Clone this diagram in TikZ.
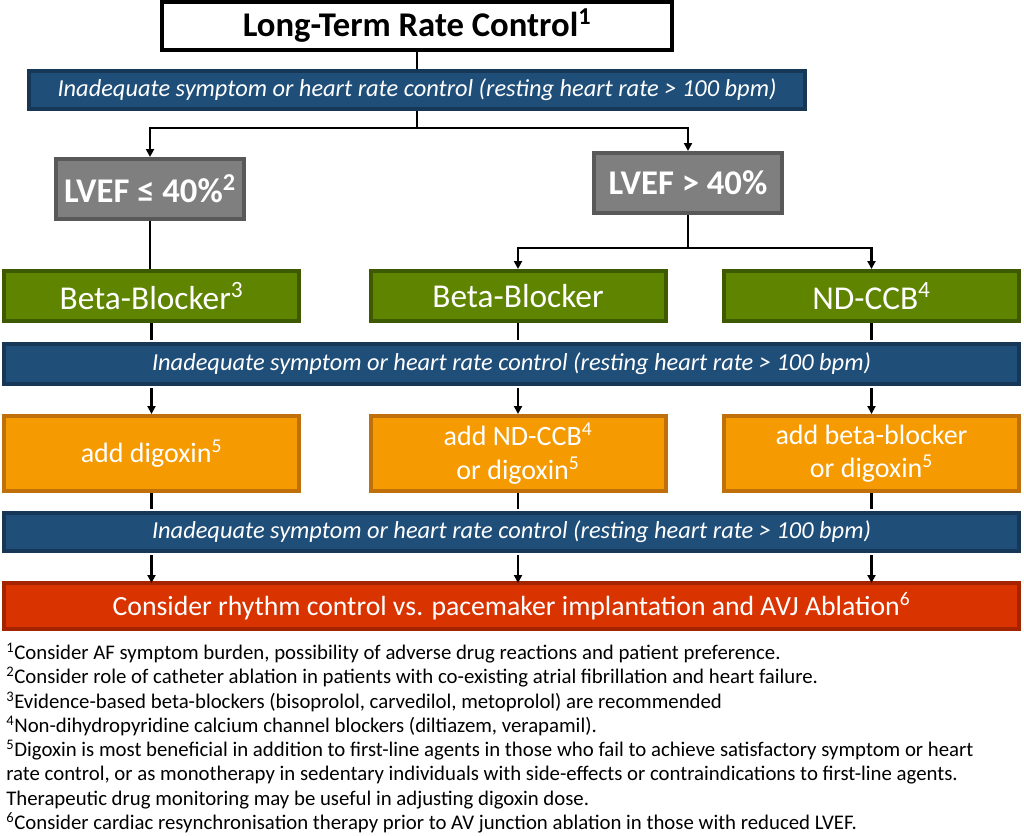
\documentclass[tikz,border=0pt]{standalone}
\usepackage{fontspec}
\setmainfont{Carlito}
\usetikzlibrary{arrows.meta}
\definecolor{bbar}{HTML}{1F4E79}
\definecolor{grf}{HTML}{7F7F7F}\definecolor{grd}{HTML}{595959}
\definecolor{gnf}{HTML}{5E8400}\definecolor{gnd}{HTML}{3D5A00}
\definecolor{orf}{HTML}{F59A00}\definecolor{ord}{HTML}{C0700A}
\definecolor{rdf}{HTML}{D93300}\definecolor{rdd}{HTML}{A52400}
\begin{document}
\begin{tikzpicture}[x=0.75pt,y=-0.75pt,
 box/.style={draw,line width=3pt,inner sep=0pt,align=center,text=white},
 bar/.style={box,fill=bbar,draw=bbar!70!black,font=\itshape\fontsize{18.3}{22}\selectfont},
 grey/.style={box,fill=grf,draw=grd,font=\bfseries\fontsize{26}{30}\selectfont},
 green/.style={box,fill=gnf,draw=gnd,font=\fontsize{25}{30}\selectfont},
 orange/.style={box,fill=orf,draw=ord,font=\fontsize{21}{25}\selectfont},
 red/.style={box,fill=rdf,draw=rdd,font=\fontsize{20.8}{24}\selectfont},
 ln/.style={line width=2pt},
 arr/.style={ln,-{Triangle[length=6pt,width=6pt]}}]
\useasboundingbox (0,0) rectangle (1024,835);
\fill[white] (0,0) rectangle (1024,835);
% title
\node[draw,line width=3.5pt,fill=white,inner sep=0pt,minimum width=510*0.75pt,minimum height=48*0.75pt,font=\bfseries\fontsize{26}{30}\selectfont] (t) at (417,26) {Long-Term Rate Control\textsuperscript{1}};
\node[bar,minimum width=776*0.75pt,minimum height=38*0.75pt] (b1) at (417,90) {Inadequate symptom or heart rate control (resting heart rate > 100 bpm)};
\node[grey,minimum width=188*0.75pt,minimum height=60*0.75pt] (g1) at (150,189) {LVEF ≤ 40\%\textsuperscript{2}};
\node[grey,minimum width=188*0.75pt,minimum height=60*0.75pt] (g2) at (688,183) {LVEF > 40\%};
\node[green,minimum width=295*0.75pt,minimum height=50*0.75pt] (n1) at (151.5,296) {Beta-Blocker\textsuperscript{3}};
\node[green,minimum width=295*0.75pt,minimum height=50*0.75pt] (n2) at (518,296) {Beta-Blocker};
\node[green,minimum width=295*0.75pt,minimum height=50*0.75pt] (n3) at (871.5,296) {ND-CCB\textsuperscript{4}};
\node[bar,minimum width=1015*0.75pt,minimum height=40*0.75pt] (b2) at (511.5,364) {Inadequate symptom or heart rate control (resting heart rate > 100 bpm)};
\node[orange,minimum width=295*0.75pt,minimum height=75*0.75pt] (o1) at (151.5,453.5) {add digoxin\textsuperscript{5}};
\node[orange,minimum width=295*0.75pt,minimum height=75*0.75pt] (o2) at (518,453.5) {add ND-CCB\textsuperscript{4}\\or digoxin\textsuperscript{5}};
\node[orange,minimum width=295*0.75pt,minimum height=75*0.75pt] (o3) at (871.5,453.5) {add beta-blocker\\or digoxin\textsuperscript{5}};
\node[bar,minimum width=1015*0.75pt,minimum height=38*0.75pt] (b3) at (511.5,532) {Inadequate symptom or heart rate control (resting heart rate > 100 bpm)};
\node[red,minimum width=1015*0.75pt,minimum height=46*0.75pt] (r) at (511.5,606) {Consider rhythm control vs. pacemaker implantation and AVJ Ablation\textsuperscript{6}};
% connectors
\draw[ln] (t.south) -- (b1.north);
\coordinate (j1) at (417,128);
\draw[ln] (b1.south) -- (j1);
\draw[arr] (j1) -| (g1.north);
\draw[arr] (j1) -| (g2.north);
\draw[ln] (g1.south) -- (n1.north -| g1.south);
\coordinate (j2) at (688,248);
\draw[ln] (g2.south) -- (j2);
\draw[arr] (j2) -| (n2.north);
\draw[arr] (j2) -| (n3.north);
\foreach \a/\b in {n1/o1,n2/o2,n3/o3}{
 \draw[ln] (\a.south) -- ([yshift=0.75pt*2]b2.north -| \a.south);
 \draw[arr] ([yshift=-0.75pt*2]b2.south -| \a.south) -- (\b.north);
 \draw[ln] (\b.south) -- ([yshift=0.75pt*2]b3.north -| \b.south);
 \draw[arr] ([yshift=-0.75pt*2]b3.south -| \b.south) -- ([yshift=-1.5pt]r.north -| \b.south);
}
% footnotes
\node[anchor=north west,align=left,inner sep=0pt,font=\fontsize{15.6}{18.2}\selectfont] (fn) at (6,643) {%
\textsuperscript{1}Consider AF symptom burden, possibility of adverse drug reactions and patient preference.\\
\textsuperscript{2}Consider role of catheter ablation in patients with co-existing atrial fibrillation and heart failure.\\
\textsuperscript{3}Evidence-based beta-blockers (bisoprolol, carvedilol, metoprolol) are recommended\\
\textsuperscript{4}Non-dihydropyridine calcium channel blockers (diltiazem, verapamil).\\
\textsuperscript{5}Digoxin is most beneficial in addition to first-line agents in those who fail to achieve satisfactory symptom or heart\\
rate control, or as monotherapy in sedentary individuals with side-effects or contraindications to first-line agents.\\
Therapeutic drug monitoring may be useful in adjusting digoxin dose.\\
\textsuperscript{6}Consider cardiac resynchronisation therapy prior to AV junction ablation in those with reduced LVEF.};
\end{tikzpicture}
\end{document}
